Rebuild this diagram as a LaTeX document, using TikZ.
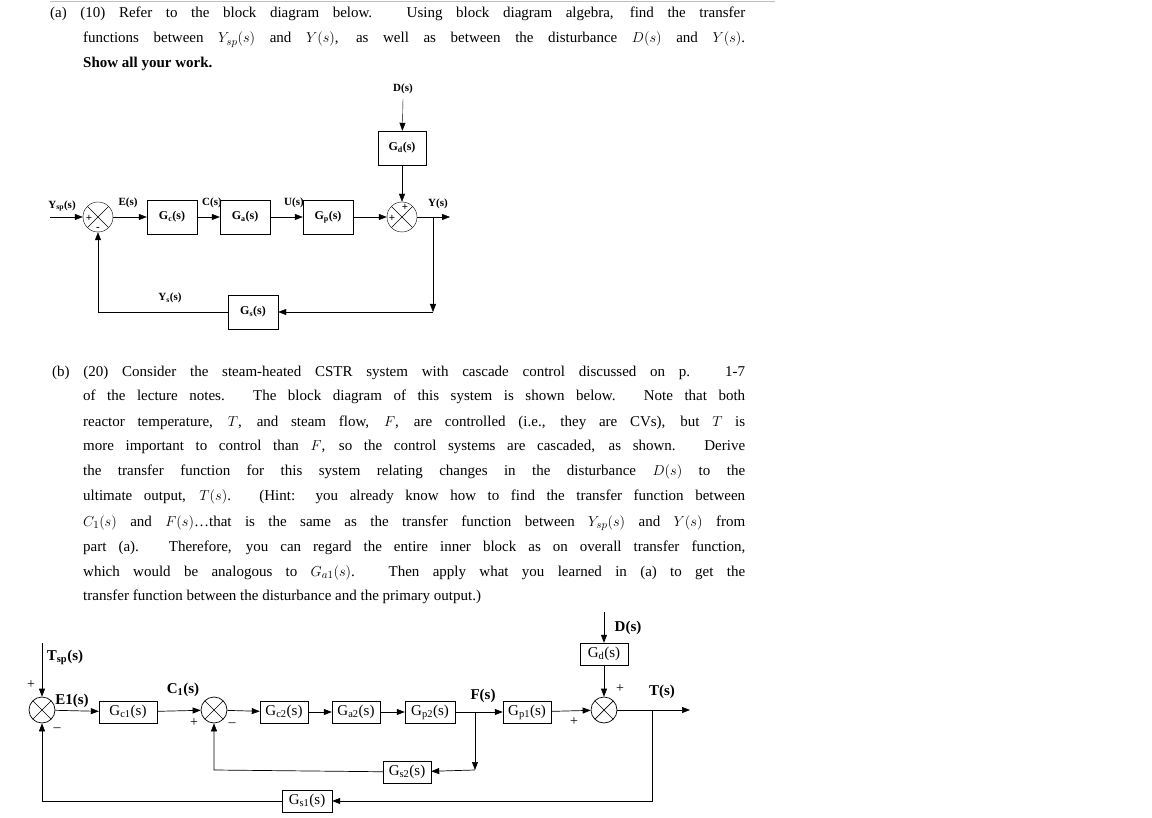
\documentclass[tikz,border=0pt]{standalone}
\usepackage{fontspec}
\setmainfont{Liberation Serif}
\usetikzlibrary{arrows.meta,calc}
\begin{document}
\begin{tikzpicture}[x=1pt,y=-1pt,
 txt/.style={anchor=base west,inner sep=0,font=\fontsize{15}{18}\selectfont},
 blk/.style={draw,minimum width=50pt,minimum height=34pt,inner sep=0,font=\fontsize{12}{14}\selectfont\bfseries},
 blkb/.style={draw,minimum height=22pt,inner sep=0,font=\fontsize{15}{18}\selectfont},
 sm/.style={draw,circle,minimum size=30pt,inner sep=0},
 smb/.style={draw,circle,minimum size=26pt,inner sep=0},
 lab/.style={font=\fontsize{11}{13}\selectfont\bfseries,inner sep=0},
 labb/.style={font=\fontsize{15}{18}\selectfont\bfseries,inner sep=0},
 ar/.style={-{Triangle[length=8pt,width=6pt]}},
 ln/.style={line width=0.7pt}]
\useasboundingbox (0,0) rectangle (1152,818);
\draw[gray!50] (50,1) -- (775,1);
% text (a)
\node[txt] (a1) at (50,18) {\makebox[695pt][s]{(a) (10) Refer to the block diagram below. Using block diagram algebra, find the transfer}};
\node[txt] (a2) at (83,43) {\makebox[662pt][s]{functions between $Y_{sp}(s)$ and $Y(s)$, as well as between the disturbance $D(s)$ and $Y(s)$.}};
\node[txt] (a3) at (83,68) {\textbf{Show all your work.}};
% diagram (a)
\node[lab] (Dl) at (403,89) {D(s)};
\node[blk,minimum width=48pt] (Gd) at (402,148) {G\textsubscript{d}(s)};
\node[sm] (s1) at (98,217) {};
\node[sm] (s2) at (402,217) {};
\foreach \s in {s1,s2}{\draw ($(\s)+(-10.6,-10.6)$) -- ($(\s)+(10.6,10.6)$); \draw ($(\s)+(-10.6,10.6)$) -- ($(\s)+(10.6,-10.6)$);}
\node[blk] (Gc) at (172,217) {G\textsubscript{c}(s)};
\node[blk] (Ga) at (245,217) {G\textsubscript{a}(s)};
\node[blk] (Gp) at (328,217) {G\textsubscript{p}(s)};
\node[blk] (Gs) at (253,312) {G\textsubscript{s}(s)};
\node[lab] at (62,206) {Y\textsubscript{sp}(s)};
\node[lab] at (128,203) {E(s)};
\node[lab] at (212,203) {C(s)};
\node[lab] at (294,203) {U(s)};
\node[lab] at (438,204) {Y(s)};
\node[lab] at (170,298) {Y\textsubscript{s}(s)};
\node[lab] at (89,218) {+}; \node[lab] at (98,229) {-};
\node[lab] at (392,218) {+}; \node[lab] at (405,207) {+};
\coordinate (yin) at (50,217);
\coordinate (tk) at (433,217);
\coordinate (yout) at (450,217);
\coordinate (fb) at (433,312);
\draw[ar] (yin) -- (s1);
\draw[ar] (s1) -- (Gc);
\draw[ar] (Gc) -- (Ga);
\draw[ar] (Ga) -- (Gp);
\draw[ar] (Gp) -- (s2);
\draw[ar] (s2) -- (yout);
\draw[ar] (Dl) ++(0,10) -- (Gd);
\draw[ar] (Gd) -- (s2);
\draw[ar] (tk) -- (fb);
\draw[ar] (fb) -- (Gs);
\draw[ar] (Gs) -- (98,312) -- (s1);
% text (b)
\node[txt] at (52,377) {\makebox[693pt][s]{(b) (20) Consider the steam-heated CSTR system with cascade control discussed on p. 1-7}};
\node[txt] at (83,401) {\makebox[662pt][s]{of the lecture notes. The block diagram of this system is shown below. Note that both}};
\node[txt] at (83,426) {\makebox[662pt][s]{reactor temperature, $T$, and steam flow, $F$, are controlled (i.e., they are CVs), but $T$ is}};
\node[txt] at (83,450) {\makebox[662pt][s]{more important to control than $F$, so the control systems are cascaded, as shown. Derive}};
\node[txt] at (83,475) {\makebox[662pt][s]{the transfer function for this system relating changes in the disturbance $D(s)$ to the}};
\node[txt] at (83,500) {\makebox[662pt][s]{ultimate output, $T(s)$. (Hint: you already know how to find the transfer function between}};
\node[txt] at (83,526) {\makebox[662pt][s]{$C_1(s)$ and $F(s)$\ldots that is the same as the transfer function between $Y_{sp}(s)$ and $Y(s)$ from}};
\node[txt] at (83,551) {\makebox[662pt][s]{part (a). Therefore, you can regard the entire inner block as on overall transfer function,}};
\node[txt] at (83,576) {\makebox[662pt][s]{which would be analogous to $G_{a1}(s)$. Then apply what you learned in (a) to get the}};
\node[txt] at (83,600) {transfer function between the disturbance and the primary output.)};
% diagram (b)
\node[smb,ln] (t1) at (42,710) {};
\node[smb,ln] (t2) at (214,710) {};
\node[smb,ln] (t3) at (604,710) {};
\foreach \s in {t1,t2,t3}{\draw[ln] ($(\s)+(-9.2,-9.2)$) -- ($(\s)+(9.2,9.2)$); \draw[ln] ($(\s)+(-9.2,9.2)$) -- ($(\s)+(9.2,-9.2)$);}
\node[blkb,minimum width=58pt] (Gc1) at (128,712) {G\textsubscript{c1}(s)};
\node[blkb,minimum width=48pt] (Gc2) at (284,712) {G\textsubscript{c2}(s)};
\node[blkb,minimum width=48pt] (Ga2) at (356,712) {G\textsubscript{a2}(s)};
\node[blkb,minimum width=50pt] (Gp2) at (430,712) {G\textsubscript{p2}(s)};
\node[blkb,minimum width=48pt] (Gp1) at (527,712) {G\textsubscript{p1}(s)};
\node[blkb,minimum width=48pt] (Gd2) at (604,654) {G\textsubscript{d}(s)};
\node[blkb,minimum width=48pt] (Gs2) at (407,772) {G\textsubscript{s2}(s)};
\node[blkb,minimum width=50pt] (Gs1) at (307,801) {G\textsubscript{s1}(s)};
\node[labb] at (65,657) {T\textsubscript{sp}(s)};
\node[labb] at (72,701) {E1(s)};
\node[labb] at (183,690) {C\textsubscript{1}(s)};
\node[labb] at (483,696) {F(s)};
\node[labb] at (628,628) {D(s)};
\node[labb] at (662,692) {T(s)};
\node[font=\fontsize{14}{16}\selectfont,inner sep=0] at (31,685) {+};
\node[font=\fontsize{14}{16}\selectfont,inner sep=0] at (57,730) {--};
\node[font=\fontsize{14}{16}\selectfont,inner sep=0] at (194,723) {+};
\node[font=\fontsize{14}{16}\selectfont,inner sep=0] at (232,725) {--};
\node[font=\fontsize{14}{16}\selectfont,inner sep=0] at (620,689) {+};
\node[font=\fontsize{14}{16}\selectfont,inner sep=0] at (574,722) {+};
\coordinate (tin) at (42,643);
\coordinate (dtop) at (604,612);
\coordinate (ftk) at (475,712);
\coordinate (fdn) at (475,770);
\coordinate (ttk) at (652,710);
\coordinate (tout) at (690,710);
\coordinate (tdn) at (652,800);
\draw[ln,ar] (tin) -- (t1);
\draw[ln,ar] (t1) -- (Gc1);
\draw[ln,ar] (Gc1) -- (t2);
\draw[ln,ar] (t2) -- (Gc2);
\draw[ln,ar] (Gc2) -- (Ga2);
\draw[ln,ar] (Ga2) -- (Gp2);
\draw[ln,ar] (Gp2) -- (Gp1);
\draw[ln,ar] (Gp1) -- (t3);
\draw[ln,ar] (t3) -- (tout);
\draw[ln,ar] (dtop) -- (Gd2);
\draw[ln,ar] (Gd2) -- (t3);
\draw[ln,ar] (ftk) -- (fdn);
\draw[ln,ar] (fdn) -- (Gs2);
\draw[ln,ar] (Gs2) -- (214,770) -- (t2);
\draw[ln,ar] (ttk) |- (Gs1);
\draw[ln,ar] (Gs1) -- (42,801) -- (t1);
\end{tikzpicture}
\end{document}
